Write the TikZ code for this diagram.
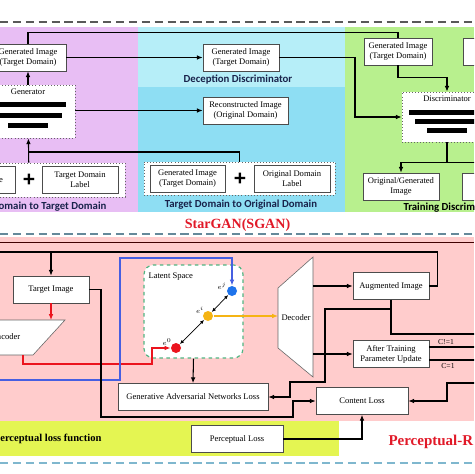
\documentclass[tikz,border=0pt]{standalone}
\usepackage{fontspec}
\setmainfont{Liberation Serif}
\newfontfamily\capfont{Carlito}
\newfontfamily\plusfont{Liberation Sans}
\usetikzlibrary{arrows.meta,positioning}
\definecolor{violetbg}{RGB}{232,190,244}
\definecolor{cyanlt}{RGB}{182,238,248}
\definecolor{cyandk}{RGB}{142,222,243}
\definecolor{greenbg}{RGB}{184,240,142}
\definecolor{pinkbg}{RGB}{255,204,204}
\definecolor{yellowbg}{RGB}{228,245,82}
\definecolor{capnavy}{RGB}{25,35,75}
\definecolor{titlered}{RGB}{225,25,40}
\definecolor{latentgreen}{RGB}{80,180,130}
\definecolor{zblue}{RGB}{30,115,235}
\definecolor{zyellow}{RGB}{245,180,20}
\definecolor{zred}{RGB}{235,20,30}
\definecolor{linkblue}{RGB}{70,95,225}

\begin{document}
\begin{tikzpicture}[x=0.03cm,y=-0.03cm,>={Latex[length=5pt,width=4pt]},
    line width=0.9pt,
    imgbox/.style={draw=black!70,line width=0.5pt,fill=white,align=center,
      font=\fontsize{7.3}{8.5}\selectfont,inner sep=1pt,
      minimum width=2.28cm,minimum height=0.81cm},
    netbox/.style={draw=black!60,line width=0.6pt,dotted,fill=white},
    boxtext/.style={font=\fontsize{7.3}{8.5}\selectfont,inner sep=0pt},
    panelcap/.style={font=\capfont\bfseries\fontsize{9.2}{10}\selectfont,text=capnavy,inner sep=0pt},
    bigtitle/.style={font=\bfseries\fontsize{12}{13}\selectfont,text=titlered,inner sep=0pt},
    plussign/.style={font=\plusfont\bfseries\fontsize{18}{18}\selectfont,inner sep=0pt},
    zdot/.style={circle,inner sep=0pt,minimum size=0.3cm},
    elabel/.style={font=\bfseries\fontsize{6}{6}\selectfont,inner sep=0pt},
    condlbl/.style={font=\fontsize{6.5}{7}\selectfont,inner sep=0pt}]

  \useasboundingbox (0,0) rectangle (474,474);
  \clip (0,0) rectangle (474,474);

  % panels
  \draw[black!65,line width=1.1pt,dash pattern=on 7pt off 4pt] (0,22) -- (474,22);
  \fill[violetbg] (0,27) rectangle (138,212);
  \fill[cyanlt] (138,27) rectangle (345,87);
  \fill[cyandk] (138,87) rectangle (345,212);
  \fill[greenbg] (345,27) rectangle (474,212);
  \draw[black!40!cyan!60!gray,line width=1.1pt,dash pattern=on 7pt off 4pt] (0,234) -- (474,234);
  \fill[pinkbg] (0,237) rectangle (474,421);
  \draw[black!75!red,line width=0.7pt] (0,242) -- (474,242);
  \fill[yellowbg] (0,421) rectangle (339,456);
  \draw[cyan!50!gray!80,line width=1.1pt,dash pattern=on 7pt off 4pt] (0,463) -- (474,463);

  % original domain to target domain
  \node[imgbox] (genA) at (28,57.5) {Generated Image\\(Target Domain)};
  \node[netbox,minimum width=2.82cm,minimum height=1.59cm] (gen) at (28,111.5) {};
  \node[boxtext,below=3pt of gen.north] (genlbl) {Generator};
  \fill (-10,102) rectangle (66,107);
  \fill (-6,113) rectangle (62,118);
  \fill (8,123) rectangle (48,128);
  \node[netbox,minimum width=5.76cm,minimum height=1.02cm] (inA) at (29,180) {};
  \node[imgbox] (origA) at (-23,180) {Original Image};
  \node[plussign] (plusA) at (29,180) {+};
  \node[imgbox] (tlabel) at (80,180) {Target Domain\\Label};
  \node[panelcap,anchor=east] (capA) at (107,207) {Original Domain to Target Domain};

  % deception discriminator
  \node[imgbox] (genB) at (241,57.5) {Generated Image\\(Target Domain)};
  \node[panelcap] (capB) at (238,80) {Deception Discriminator};
  \node[imgbox,minimum width=2.55cm] (recon) at (245.5,110.5) {Reconstructed Image\\(Original Domain)};
  \node[netbox,minimum width=5.73cm,minimum height=0.99cm] (inB) at (239.5,178.5) {};
  \node[imgbox,minimum width=2.25cm] (genC) at (187.5,178.5) {Generated Image\\(Target Domain)};
  \node[plussign] (plusB) at (240,179) {+};
  \node[imgbox] (olabel) at (292,178.5) {Original Domain\\Label};
  \node[panelcap] (capC) at (241,205) {Target Domain to Original Domain};

  % training discriminator
  \node[imgbox,minimum width=2.04cm] (genD) at (398,51.5) {Generated Image\\(Target Domain)};
  \node[imgbox] (origD) at (501,51.5) {};
  \node[netbox,minimum width=2.7cm,minimum height=1.5cm] (disc) at (447,117) {};
  \node[boxtext,below=3pt of disc.north] (disclbl) {Discriminator};
  \fill (409,110) rectangle (485,115);
  \fill (415,119) rectangle (481,124);
  \fill (427,128) rectangle (467,133);
  \node[imgbox] (ogimg) at (401,186.5) {Original/Generated\\Image};
  \node[imgbox] (outD) at (500,186.5) {};
  \node[panelcap,text=black,anchor=west] (capD) at (403,208) {Training Discriminator};

  \node[bigtitle] (sgan) at (237.5,225) {StarGAN(SGAN)};

  \draw[->] (gen) -- (genA);
  \draw[->] (inA) -- (gen);
  \draw (inB.north) |- (28,152);
  \draw (genA.north) -- ++(0,-11) -| (genD.north);
  \draw[->] (genA) -- (genB);
  \draw[->] (genB.east) -| (355,117) -- (disc.west);
  \draw[->] (gen.east |- recon) -- (recon.west);
  \draw[->] (genD.south) -- ++(0,12) -| (disc.north);
  \draw[->] (disc.south) -- ++(0,20) -| (ogimg.north);
  \draw (disc.south) ++(0,20) -| (outD.north);

  % perceptual part
  \node[imgbox] (target) at (51,289.5) {Target Image};
  \draw[draw=black!60,line width=0.5pt,fill=white] (-40,320) -- (65,320) -- (33,355) -- (-40,355) -- cycle;
  \node[boxtext] (enc) at (6,337) {Encoder};
  \coordinate (encTop) at (51,320);
  \coordinate (encBot) at (23,355);

  \node[draw=latentgreen,dashed,line width=1pt,rounded corners=8pt,fill=white,
        minimum width=2.97cm,minimum height=2.79cm] (latent) at (193.5,311.5) {};
  \node[boxtext,anchor=west] (latlbl) at (148,277) {Latent Space};
  \node[zdot,fill=zblue] (ej) at (232,291) {};
  \node[zdot,fill=zyellow] (ei) at (208,316) {};
  \node[zdot,fill=zred] (e0) at (176,348) {};
  \node[elabel] at (222,286) {$e^j$};
  \node[elabel] at (200,310) {$e^i$};
  \node[elabel] at (167,342) {$e^0$};
  \draw[{Latex[length=3.5pt,width=3pt]}-{Latex[length=3.5pt,width=3pt]},line width=0.6pt] (ej) -- (ei);
  \draw[{Latex[length=3.5pt,width=3pt]}-{Latex[length=3.5pt,width=3pt]},line width=0.6pt] (ei) -- (e0);

  \draw[draw=black!60,line width=0.5pt,fill=white] (278,288) -- (313,257) -- (313,377) -- (278,348) -- cycle;
  \node[boxtext] (dec) at (296,318) {Decoder};
  \coordinate (decIn) at (278,316);
  \coordinate (decOutA) at (313,286);
  \coordinate (decOutB) at (313,354);

  \node[imgbox] (aug) at (391,286) {Augmented Image};
  \node[imgbox] (after) at (391,354) {After Training\\Parameter Update};
  \node[imgbox,minimum width=2.76cm] (content) at (362,401) {Content Loss};
  \node[imgbox,minimum width=4.5cm] (ganloss) at (193,397) {Generative Adversarial Networks Loss};
  \node[imgbox,minimum width=2.76cm] (perc) at (237,439) {Perceptual Loss};
  \node[font=\bfseries\fontsize{9}{10}\selectfont,anchor=east,inner sep=0pt] (plf) at (102,439) {Perceptual loss function};
  \node[bigtitle,font=\bfseries\fontsize{12.8}{14}\selectfont,anchor=west] (prs) at (388,442) {Perceptual-R};

  \draw[->] (aug.east) -- ++(8,0) |- (target.north |- 0,252) -- (target.north);
  \draw (target.north |- 0,252) -- (-5,252);
  \draw[->,zred] (target.south) -- (encTop);
  \draw[->,zred] (encBot) -- (23,364) -| (152,348) -- (e0);
  \draw[->,linkblue] (-5,380) -| (120,258) -| (ej);
  \draw[->,zyellow] (ei) -- (decIn);
  \draw[->] (target.east) -| (101,417) -| (293,401) -- (content.west);
  \draw[->] (latent.south) -- (ganloss.north);
  \draw[->] (decOutA) -- (aug.west);
  \draw[->] (decOutB) -- (after.west);
  \draw (aug.south) |- (480,334);
  \draw[->] (aug.south |- 0,309) -| (325,382) -| (290,397) -- (ganloss.east);
  \draw (after.east |- 0,347) -- (480,347);
  \node[condlbl] (cne) at (446,342) {C!=1};
  \draw (after.east |- 0,360) -- (480,360);
  \node[condlbl] (ceq) at (448,366) {C=1};
  \draw[->] (480,383) -| (447,401) -- (content.east);
  \draw[->] (perc.east) -| (content.south);
\end{tikzpicture}
\end{document}
